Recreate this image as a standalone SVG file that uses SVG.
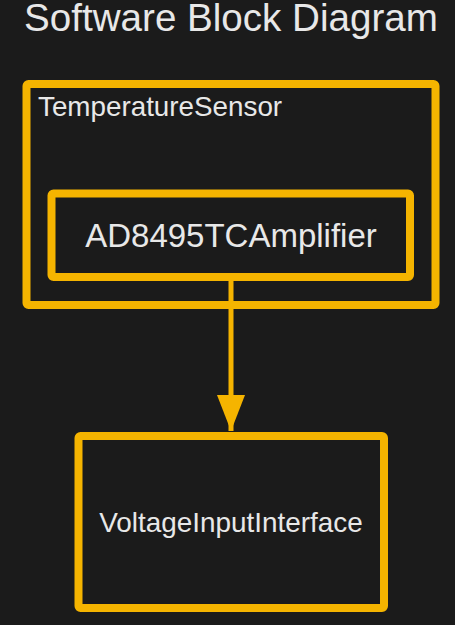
<svg xmlns="http://www.w3.org/2000/svg" width="455" height="625" viewBox="0 0 455 625">
<style>
.box{fill:none;stroke:#f5b400;stroke-width:8;stroke-linejoin:round}
.t{font-family:"Liberation Sans",Arial,sans-serif;fill:#e8e8e8}
.edge{stroke:#f5b400;stroke-width:5;fill:none}
</style>
<defs>
<marker id="ah" markerUnits="userSpaceOnUse" markerWidth="36" markerHeight="28" refX="36" refY="14" orient="auto" viewBox="0 0 36 28">
<path d="M0,0 L36,14 L0,28 Z" fill="#f5b400"/>
</marker>
</defs>
<rect width="455" height="625" fill="#1b1b1b"/>
<text class="t" x="231" y="31" font-size="38.6" text-anchor="middle">Software Block Diagram</text>
<g id="TemperatureSensor">
<rect class="box" x="26.5" y="84" width="409" height="221" rx="2"/>
<text class="t" x="38" y="116" font-size="27.8">TemperatureSensor</text>
</g>
<g id="AD8495TCAmplifier">
<rect class="box" x="51.5" y="193.5" width="358.5" height="83.5" rx="2"/>
<text class="t" x="231" y="247" font-size="33" text-anchor="middle">AD8495TCAmplifier</text>
</g>
<g id="VoltageInputInterface">
<rect class="box" x="78.5" y="436" width="305.5" height="172" rx="2"/>
<text class="t" x="231" y="532" font-size="27.9" text-anchor="middle">VoltageInputInterface</text>
</g>
<g id="connectors">
<path class="edge" d="M231,281 L231,431" marker-end="url(#ah)"/>
</g>
</svg>
